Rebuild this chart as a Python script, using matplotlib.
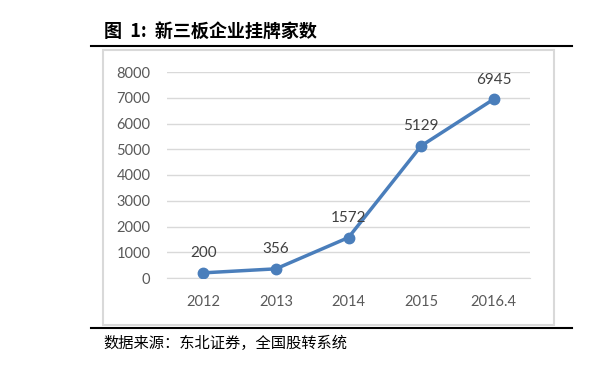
import matplotlib
matplotlib.use("Agg")
import matplotlib.pyplot as plt
from matplotlib.patches import Rectangle
from matplotlib.lines import Line2D

# data
years = ["2012", "2013", "2014", "2015", "2016.4"]
listed = [200, 356, 1572, 5129, 6945]
yticks = [0, 1000, 2000, 3000, 4000, 5000, 6000, 7000, 8000]

title = "图  1:  新三板企业挂牌家数"
source = "数据来源：东北证券，全国股转系统"

W, H = 601, 373
fig = plt.figure(figsize=(W / 100, H / 100), dpi=100)

# frame lines and chart border
fig.add_artist(Line2D([91 / W, 572 / W], [1 - 45.5 / H] * 2, color="black", lw=1.5))
fig.add_artist(Line2D([91 / W, 572 / W], [1 - 328 / H] * 2, color="black", lw=1.5))
fig.add_artist(Rectangle((103 / W, 1 - 325 / H), 451 / W, 275 / H,
                         fill=False, ec="#D9D9D9", lw=1.5))

fig.text(104 / W, 1 - 31 / H, title, fontsize=13, fontweight="bold",
         family=["Noto Sans CJK SC", "DejaVu Sans"], va="center", ha="left")
fig.text(103 / W, 1 - 343 / H, source, fontsize=11,
         family=["Noto Sans CJK SC", "DejaVu Sans"], va="center", ha="left")

ax = fig.add_axes([167 / W, 1 - 278 / H, 363 / W, 206 / H])
x = range(len(years))
ax.plot(x, listed, color="#4A7EBB", lw=2.5, marker="o", ms=7.5, zorder=3)
for xi, v in zip(x, listed):
    ax.annotate(str(v), (xi, v), xytext=(0, 9), textcoords="offset points",
                ha="center", va="bottom", fontsize=11, color="#404040", family="Lato")

ax.set_xlim(-0.5, len(years) - 0.5)
ax.set_ylim(0, 8000)
ax.set_yticks(yticks)
ax.set_xticks(list(x))
ax.set_xticklabels(years)
ax.grid(axis="y", color="#D9D9D9", lw=1)
ax.set_axisbelow(True)
for s in ["top", "right", "left"]:
    ax.spines[s].set_visible(False)
ax.spines["bottom"].set_color("#D9D9D9")
ax.tick_params(length=0, labelsize=10.5, labelcolor="#595959")
ax.tick_params(axis="x", pad=12)
ax.tick_params(axis="y", pad=12)
for lab in ax.get_xticklabels() + ax.get_yticklabels():
    lab.set_family("Lato")

fig.savefig("out.png", dpi=100)
